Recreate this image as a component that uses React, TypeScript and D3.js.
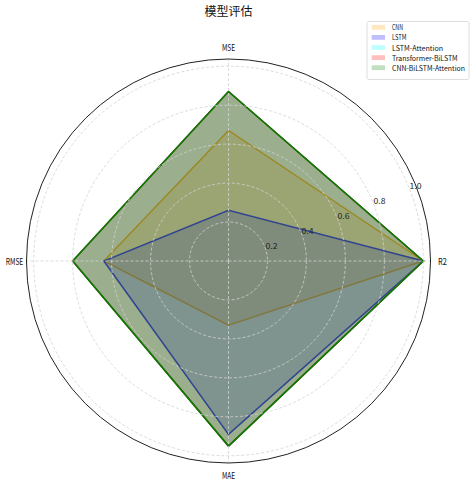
import React from 'react';
import * as d3 from 'd3';

// metrics around the circle (matplotlib order: counterclockwise from east)
const metrics = ['R2', 'MSE', 'RMSE', 'MAE'];
const models = ['CNN', 'LSTM', 'LSTM-Attention', 'Transformer-BiLSTM', 'CNN-BiLSTM-Attention'];
const modelColors = ['#FFA500', '#0000FF', '#00FFFF', '#FF0000', '#008000'];

// normalised scores, one row per model
const cnnVals = [1.0, 0.67, 0.64, 0.33];
const lstmVals = [1.0, 0.26, 0.64, 0.89];
const lstmAttVals = [1.0, 0.87, 0.80, 0.95];
const transVals = [1.0, 0.87, 0.80, 0.95];
const cnnBiAttVals = [1.0, 0.87, 0.80, 0.95];
const seriesValues = [cnnVals, lstmVals, lstmAttVals, transVals, cnnBiAttVals];

const rTicks = [0.2, 0.4, 0.6, 0.8, 1.0];
const rMax = 1.037;

const W = 474;
const H = 485;
const cx = 228.5;
const cy = 261;
const outerR = 202;

// SimHei-like half width latin: squeeze the font to 0.5em per char
const narrow = (s: string, size: number) => ({
  fontSize: size,
  fontFamily: '"Noto Sans CJK SC", "DejaVu Sans", sans-serif',
  textLength: s.length * size * 0.5,
  lengthAdjust: 'spacingAndGlyphs' as const,
});

const App: React.FC = () => {
  const r = d3.scaleLinear().domain([0, rMax]).range([0, outerR]);
  // matplotlib theta (ccw from east) -> d3 radial angle (cw from north)
  const theta = (i: number) => (2 * Math.PI * i) / metrics.length;
  const d3Angle = (i: number) => Math.PI / 2 - theta(i);

  const radial = d3
    .lineRadial<number>()
    .angle((_, i) => d3Angle(i))
    .radius(d => r(d))
    .curve(d3.curveLinearClosed);

  const labelR = outerR + 12;

  return (
    <svg width={W} height={H} style={{ position: 'absolute', left: 0, top: 0, background: '#fff' }}>
      <text x={cx} y={15.5} textAnchor="middle" fontSize={12} fontFamily='"Noto Sans CJK SC", sans-serif' fill="#111">
        模型评估
      </text>

      <g transform={`translate(${cx},${cy})`}>
        {seriesValues.map((vals, k) => (
          <g key={models[k]}>
            <path d={radial(vals) || ''} fill={modelColors[k]} fillOpacity={0.25} stroke="none" />
            <path d={radial(vals) || ''} fill="none" stroke={modelColors[k]} strokeWidth={1.5} strokeLinejoin="miter" />
          </g>
        ))}

        {/* grid on top */}
        {rTicks.map(t => (
          <circle key={t} r={r(t)} fill="none" stroke="#d2d2d2" strokeWidth={0.8} strokeDasharray="3,2" />
        ))}
        {metrics.map((m, i) => (
          <line
            key={m}
            x1={0}
            y1={0}
            x2={outerR * Math.cos(theta(i))}
            y2={-outerR * Math.sin(theta(i))}
            stroke="#d2d2d2"
            strokeWidth={0.8}
            strokeDasharray="3,2"
          />
        ))}
        <circle r={outerR} fill="none" stroke="#222" strokeWidth={1} />

        {rTicks.map(t => {
          const a = (22.5 * Math.PI) / 180;
          const s = t.toFixed(1);
          return (
            <text key={t} x={r(t) * Math.cos(a) + 1} y={-r(t) * Math.sin(a) + 3} fill="#222" {...narrow(s, 8)}>
              {s}
            </text>
          );
        })}

        {metrics.map((m, i) => (
          <text
            key={m}
            x={labelR * Math.cos(theta(i))}
            y={-labelR * Math.sin(theta(i))}
            textAnchor="middle"
            dominantBaseline="central"
            fill="#111"
            {...narrow(m, 8.8)}
          >
            {m}
          </text>
        ))}
      </g>

      <g transform="translate(367,21.5)">
        <rect x={0} y={0} width={102} height={58} rx={2} fill="#fff" fillOpacity={0.8} stroke="#d6d6d6" strokeWidth={0.8} />
        {models.map((m, k) => (
          <g key={m} transform={`translate(0,${5.8 + k * 10.1})`}>
            <rect x={4.7} y={-2.4} width={13.3} height={4.8} fill={modelColors[k]} fillOpacity={0.25} />
            <text x={25} y={0} dominantBaseline="central" fill="#111" {...narrow(m, 7.3)}>
              {m}
            </text>
          </g>
        ))}
      </g>
    </svg>
  );
};

export default App;
